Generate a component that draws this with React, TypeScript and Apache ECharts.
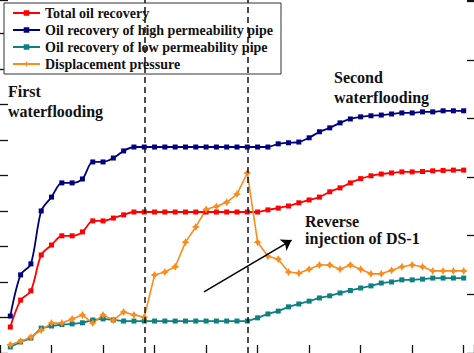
import React, { useEffect, useRef } from "react";
import * as echarts from "echarts";

const xValues = [1, 2, 3, 4, 5, 6, 7, 8, 9, 10, 11, 12, 13, 14, 15, 16, 17, 18, 19, 20, 21, 22, 23, 24, 25, 26, 27, 28, 29, 30, 31, 32, 33, 34, 35, 36, 37, 38, 39, 40, 41, 42, 43, 44, 45];

const totalRecovery = [7.3, 14.9, 17.5, 27.6, 30.4, 33.0, 33.0, 34.1, 37.2, 37.2, 38.0, 38.9, 39.7,
  39.7, 39.7, 39.7, 39.7, 39.7, 39.7, 39.7, 39.7, 39.7, 39.7, 39.7, 39.7,
  40.3, 40.8, 41.4, 42.3, 43.1, 43.9, 45.4, 46.5, 47.9, 49.1, 49.9, 50.4, 50.7, 51.0, 51.0, 51.1, 51.3, 51.4, 51.5, 51.5];

const highRecovery = [10.4, 22.0, 25.1, 40.0, 43.9, 47.9, 47.9, 49.0, 53.8, 53.8, 54.9, 56.9, 58.0,
  58.0, 58.0, 58.0, 58.0, 58.0, 58.0, 58.0, 58.0, 58.0, 58.0, 58.0, 58.0, 58.0,
  58.9, 59.2, 59.4, 60.6, 62.3, 63.4, 64.8, 65.9, 66.5, 66.8, 67.0, 67.3, 67.6, 67.6, 67.9, 67.9, 68.2, 68.2, 68.2];

const lowRecovery = [1.7, 3.1, 4.2, 7.0, 7.6, 8.0, 8.2, 8.5, 9.3, 9.6, 9.3,
  9.0, 9.0, 9.0, 9.0, 9.0, 9.0, 9.0, 9.0, 9.0, 9.0, 9.0, 9.0, 9.0,
  9.9, 11.0, 11.8, 13.0, 13.8, 14.6, 15.5, 16.1, 16.9, 17.6, 18.3, 18.9, 19.7, 20.0, 20.6, 20.6, 20.8, 21.1, 21.1, 21.1, 21.1];

const pressure = [0.14, 0.20, 0.27, 0.39, 0.51, 0.51, 0.58, 0.65, 0.51, 0.65, 0.56, 0.70, 0.65, 0.61,
  1.33, 1.38, 1.47, 1.89, 2.15, 2.45, 2.50, 2.57, 2.71, 3.07,
  1.89, 1.65, 1.60, 1.38, 1.36, 1.43, 1.50, 1.50, 1.43, 1.50, 1.43, 1.35, 1.35, 1.41, 1.47, 1.50, 1.47, 1.40, 1.40, 1.40, 1.40];

const seriesNames = [
  "Total oil recovery",
  "Oil recovery of high permeability pipe",
  "Oil recovery of low permeability pipe",
  "Displacement pressure",
];

const stageLines = [14, 24];
const arrowStart = [19.8, 17.2];
const arrowEnd = [28.3, 31.8];

const colors = ["#ff0000", "#00007f", "#0e8080", "#fb8c1c"];
const star = "path://M5,0 L6.8,3.2 L10,5 L6.8,6.8 L5,10 L3.2,6.8 L0,5 L3.2,3.2 Z";

const pair = (ys: number[]) => xValues.map((x, i) => [x, ys[i]]);

const FONT = "'Liberation Serif', 'Times New Roman', serif";

export default function App() {
  const ref = useRef<HTMLDivElement>(null);
  useEffect(() => {
    const chart = echarts.init(ref.current!, null, { renderer: "svg" });
    const tick = (len: number) => ({ show: true, inside: true, length: len, lineStyle: { color: "#111", width: 1.3 } });
    const labelText = (x: number, y: number, text: string) => ({
      type: "text",
      x,
      y,
      style: { text, fontFamily: FONT, fontWeight: "bold", fontSize: 16, fill: "#111", textVerticalAlign: "middle" },
    });
    chart.setOption({
      animation: false,
      backgroundColor: "#fff",
      grid: { left: 0, right: 0, top: 0, bottom: 0 },
      xAxis: {
        type: "value", min: 0, max: 46, interval: 5,
        axisLine: { show: false }, axisTick: tick(8), axisLabel: { show: false }, splitLine: { show: false },
      },
      yAxis: [
        {
          type: "value", min: 0, max: 99.4, interval: 10,
          axisLine: { show: false }, axisTick: tick(8), axisLabel: { show: false }, splitLine: { show: false },
        },
        {
          type: "value", position: "right", min: 0, max: 6.02, interval: 1,
          axisLine: { show: false }, axisTick: tick(7), axisLabel: { show: false }, splitLine: { show: false },
        },
      ],
      legend: {
        data: seriesNames,
        orient: "vertical",
        left: 4, top: 3,
        padding: [3, 8, 3, 8],
        itemGap: 3,
        itemWidth: 27,
        itemHeight: 7,
        borderColor: "#333",
        borderWidth: 1,
        backgroundColor: "#fff",
        textStyle: { fontFamily: FONT, fontWeight: "bold", fontSize: 14, color: "#111", lineHeight: 14 },
      },
      series: [
        {
          name: seriesNames[0], type: "line", yAxisIndex: 0, data: pair(totalRecovery), smooth: 0.3,
          symbol: "rect", symbolSize: 5, color: colors[0], lineStyle: { width: 1.8 },
          markLine: {
            silent: true, symbol: ["none", "arrow"], symbolSize: 10,
            lineStyle: { color: "#000", width: 1.5, type: "solid" }, label: { show: false },
            data: [[{ coord: arrowStart }, { coord: arrowEnd }]],
          },
        },
        {
          name: seriesNames[1], type: "line", yAxisIndex: 0, data: pair(highRecovery), smooth: 0.3,
          symbol: "rect", symbolSize: 5, color: colors[1], lineStyle: { width: 1.8 },
          markLine: {
            silent: true, symbol: ["none", "none"],
            lineStyle: { color: "#111", width: 1.5, type: [6, 4] }, label: { show: false },
            data: stageLines.map((v) => ({ xAxis: v })),
          },
        },
        {
          name: seriesNames[2], type: "line", yAxisIndex: 0, data: pair(lowRecovery),
          symbol: "rect", symbolSize: 5, color: colors[2], lineStyle: { width: 1.8 },
        },
        {
          name: seriesNames[3], type: "line", yAxisIndex: 1, data: pair(pressure),
          symbol: star, symbolSize: 8, color: colors[3], lineStyle: { width: 1.6 },
        },
      ],
      graphic: [
        labelText(8, 91, "First"),
        labelText(8, 111, "waterflooding"),
        labelText(334, 77, "Second"),
        labelText(334, 97, "waterflooding"),
        labelText(305, 221, "Reverse"),
        labelText(305, 238, "injection of DS-1"),
      ],
    });
    return () => chart.dispose();
  }, []);
  return (
    <div
      ref={ref}
      style={{ position: "fixed", left: 0, top: 0, width: 474, height: 353, background: "#fff" }}
    />
  );
}
